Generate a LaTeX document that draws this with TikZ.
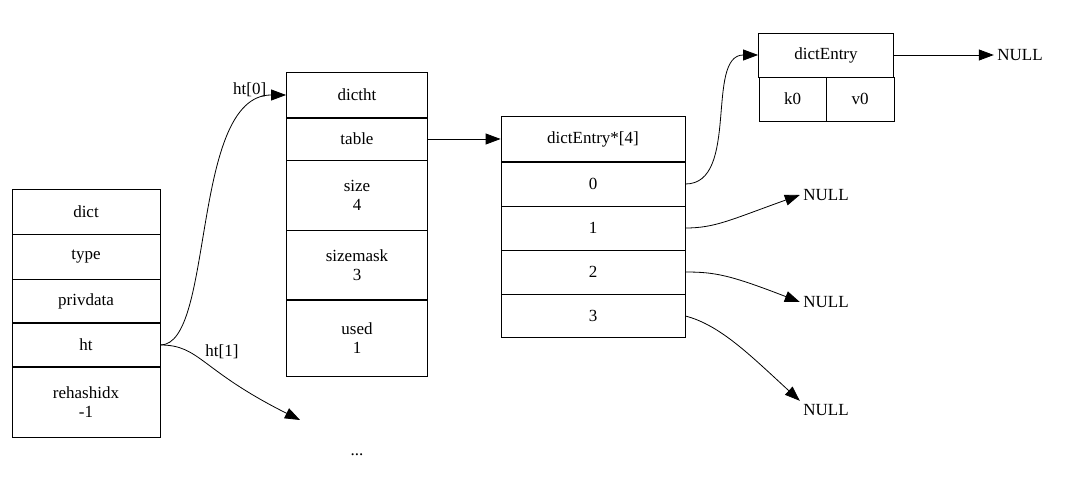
\documentclass[tikz,border=0pt]{standalone}
\usepackage{fontspec}
\setmainfont{Liberation Serif}
\usetikzlibrary{arrows.meta, positioning}

\begin{document}
\begin{tikzpicture}
		[x=1pt, y=-1pt,
		font=\fontsize{17}{19}\selectfont,
		cell/.style = {draw=black, rectangle, inner sep=0pt, align=center, line width=0.8pt},
		arr/.style = {-{Triangle[length=15pt,width=11pt]}, line width=0.8pt},
		lbl/.style = {inner sep=1pt}]

		\useasboundingbox (0,0) rectangle (1085,481);

		% dict
		\foreach \y/\h/\alph/\name in {
			212/45/d0/dict,
			257/45/d1/type,
			301/43/d2/privdata,
			345/44/d3/ht,
			402/71/d4/{rehashidx\\-1}}{
			\node[cell, minimum width=148pt, minimum height=\h pt] (\alph) at (86,\y) {\name};
		}

		% dictht
		\foreach \y/\h/\alph/\name in {
			95/45/t0/dictht,
			139/42/t1/table,
			195/70/t2/{size\\4},
			265/70/t3/{sizemask\\3},
			338/77/t4/{used\\1}}{
			\node[cell, minimum width=141pt, minimum height=\h pt] (\alph) at (357,\y) {\name};
		}

		% dictEntry*[4]
		\foreach \y/\h/\alph/\name in {
			139/45/e0/{dictEntry*[4]},
			184/44/e1/0,
			228/44/e2/1,
			272/44/e3/2,
			316/43/e4/3}{
			\node[cell, minimum width=184pt, minimum height=\h pt] (\alph) at (593,\y) {\name};
		}

		% dictEntry
		\node[cell, minimum width=135pt, minimum height=44pt] (de) at (826,55) {dictEntry};
		\node[cell, minimum width=67pt, minimum height=44pt] (k0) at (792.5,99) {k0};
		\node[cell, minimum width=68pt, minimum height=44pt] (v0) at (860,99) {v0};

		\node (n0) at (1020,55) {NULL};
		\node (n1) at (826,195) {NULL};
		\node (n2) at (826,302) {NULL};
		\node (n3) at (826,410) {NULL};
		\node (dots) at (357,455) {...};
		\coordinate (ht1) at (300,420);

		\draw[arr] (d3.east) .. controls (215,345) and (190,95) .. (t0.west)
			node[lbl, pos=0.93, above left] {ht[0]};
		\draw[arr] (d3.east) .. controls (200,345) and (200,370) .. (ht1);
		\node[lbl] at (222,352) {ht[1]};
		\draw[arr] (t1.east) -- (e0.west);
		\draw[arr] (e1.east) .. controls (740,184) and (705,55) .. (de.west);
		\draw[arr] (e2.east) .. controls (715,228) and (730,220) .. (n1.west);
		\draw[arr] (e3.east) .. controls (715,272) and (730,275) .. (n2.west);
		\draw[arr] (e4.east) .. controls (720,325) and (750,355) .. (n3.north west);
		\draw[arr] (de.east) -- (n0.west);
\end{tikzpicture}
\end{document}
